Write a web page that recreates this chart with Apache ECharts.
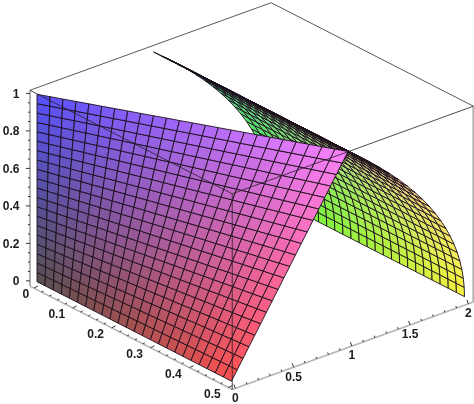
<!DOCTYPE html>
<html><head><meta charset="utf-8">
<style>html,body{margin:0;padding:0;background:#fff}#c{width:474px;height:404px}</style>
<script src="https://cdn.jsdelivr.net/npm/echarts@6/dist/echarts.min.js"></script>
</head><body><div id="c"></div>
<script>
// ---- values ----
const aLevels=[0,.0208,.0417,.0625,.0833,.1042,.125,.1458,.1667,.1875,.2083,.2292,.25,.2708,.2917,.3125,.3333,.3542,.375,.3958,.4167,.4375,.4583,.4792,.5];
const zLevels=[0,.05,.1,.15,.2,.25,.3,.35,.4,.45,.5,.55,.6,.65,.7,.75,.8,.85,.9,.95,1];
// curved sheet: b at each z level (same for all a)
const curvedB=[2,1.9975,1.99,1.9775,1.96,1.9375,1.91,1.8775,1.84,1.7975,1.75,1.6975,1.64,1.5775,1.51,1.4375,1.36,1.2775,1.19,1.0975,1];
// flat sheet: b table, one row per z level, one column per a level
const planeB=[
[0,0,0,0,0,0,0,0,0,0,0,0,0,0,0,0,0,0,0,0,0,0,0,0,0],
[0,.002,.004,.006,.008,.010,.013,.015,.017,.019,.021,.023,.025,.027,.029,.031,.033,.035,.038,.040,.042,.044,.046,.048,.050],
[0,.004,.008,.013,.017,.021,.025,.029,.033,.038,.042,.046,.050,.054,.058,.063,.067,.071,.075,.079,.083,.088,.092,.096,.100],
[0,.006,.013,.019,.025,.031,.038,.044,.050,.056,.063,.069,.075,.081,.088,.094,.100,.106,.113,.119,.125,.131,.138,.144,.150],
[0,.008,.017,.025,.033,.042,.050,.058,.067,.075,.083,.092,.100,.108,.117,.125,.133,.142,.150,.158,.167,.175,.183,.192,.200],
[0,.010,.021,.031,.042,.052,.063,.073,.083,.094,.104,.115,.125,.135,.146,.156,.167,.177,.188,.198,.208,.219,.229,.240,.250],
[0,.013,.025,.038,.050,.063,.075,.088,.100,.113,.125,.138,.150,.163,.175,.188,.200,.213,.225,.238,.250,.263,.275,.288,.300],
[0,.015,.029,.044,.058,.073,.088,.102,.117,.131,.146,.160,.175,.190,.204,.219,.233,.248,.263,.277,.292,.306,.321,.335,.350],
[0,.017,.033,.050,.067,.083,.100,.117,.133,.150,.167,.183,.200,.217,.233,.250,.267,.283,.300,.317,.333,.350,.367,.383,.400],
[0,.019,.038,.056,.075,.094,.113,.131,.150,.169,.188,.206,.225,.244,.263,.281,.300,.319,.338,.356,.375,.394,.413,.431,.450],
[0,.021,.042,.063,.083,.104,.125,.146,.167,.188,.208,.229,.250,.271,.292,.313,.333,.354,.375,.396,.417,.438,.458,.479,.500],
[0,.023,.046,.069,.092,.115,.138,.160,.183,.206,.229,.252,.275,.298,.321,.344,.367,.390,.413,.435,.458,.481,.504,.527,.550],
[0,.025,.050,.075,.100,.125,.150,.175,.200,.225,.250,.275,.300,.325,.350,.375,.400,.425,.450,.475,.500,.525,.550,.575,.600],
[0,.027,.054,.081,.108,.135,.163,.190,.217,.244,.271,.298,.325,.352,.379,.406,.433,.460,.488,.515,.542,.569,.596,.623,.650],
[0,.029,.058,.088,.117,.146,.175,.204,.233,.263,.292,.321,.350,.379,.408,.438,.467,.496,.525,.554,.583,.613,.642,.671,.700],
[0,.031,.063,.094,.125,.156,.188,.219,.250,.281,.313,.344,.375,.406,.438,.469,.500,.531,.563,.594,.625,.656,.688,.719,.750],
[0,.033,.067,.100,.133,.167,.200,.233,.267,.300,.333,.367,.400,.433,.467,.500,.533,.567,.600,.633,.667,.700,.733,.767,.800],
[0,.035,.071,.106,.142,.177,.213,.248,.283,.319,.354,.390,.425,.460,.496,.531,.567,.602,.638,.673,.708,.744,.779,.815,.850],
[0,.038,.075,.113,.150,.188,.225,.263,.300,.338,.375,.413,.450,.488,.525,.563,.600,.638,.675,.713,.750,.788,.825,.863,.900],
[0,.040,.079,.119,.158,.198,.238,.277,.317,.356,.396,.435,.475,.515,.554,.594,.633,.673,.713,.752,.792,.831,.871,.910,.950],
[0,.042,.083,.125,.167,.208,.250,.292,.333,.375,.417,.458,.500,.542,.583,.625,.667,.708,.750,.792,.833,.875,.917,.958,1]
];
const aTicks=[0,.1,.2,.3,.4,.5];
const bTicks=[0,.5,1,1.5,2];
const zTicks=[0,.2,.4,.6,.8,1];
const aTickLabels=['0','0.1','0.2','0.3','0.4','0.5'];
const bTickLabels=['0','0.5','1','1.5','2'];
const zTickLabels=['0','0.2','0.4','0.6','0.8','1'];
const frameA=[-.01,.51], frameB=[-.027,2.043], frameZ=[-.028,1.017];

// ---- view: fixed oblique projection of the box onto the page ----
const view={ox:37,oy:281.7,ax:389,ay:199,bx:116.5,by:-42.3,zy:-187.4};
function project(a,b,z){return [view.ox+view.ax*a+view.bx*b, view.oy+view.ay*a+view.by*b+view.zy*z];}

function shadePlane(a,b,z){
  return 'rgb('+Math.round(85+330*a)+','+Math.round(80+50*b)+','+Math.round(78+172*z)+')';
}
function shadeCurved(a,b,z){
  return 'rgb('+Math.round(85+320*a)+','+Math.round(150+90*(b-1))+','+Math.round(62+110*z)+')';
}
function cellsFrom(bAt){
  const out=[];
  for(let j=0;j<zLevels.length-1;j++)for(let i=0;i<aLevels.length-1;i++){
    out.push([aLevels[i],bAt(j,i),zLevels[j],aLevels[i+1],bAt(j,i+1),zLevels[j],
              aLevels[i+1],bAt(j+1,i+1),zLevels[j+1],aLevels[i],bAt(j+1,i),zLevels[j+1]]);
  }
  return out;
}
function renderCellWith(shade){
  return function(p,api){
    const pts=[],m=[0,0,0];
    for(let k=0;k<4;k++){
      const a=api.value(k*3),b=api.value(k*3+1),z=api.value(k*3+2);
      pts.push(api.coord(project(a,b,z)));m[0]+=a/4;m[1]+=b/4;m[2]+=z/4;
    }
    return {type:'polygon',shape:{points:pts},
      style:{fill:shade(m[0],m[1],m[2]),stroke:'rgba(24,12,24,0.88)',lineWidth:1}};
  };
}
function renderSeg(p,api){
  const s=api.coord(project(api.value(0),api.value(1),api.value(2)));
  const e=api.coord(project(api.value(3),api.value(4),api.value(5)));
  const t=api.value(6);
  const st=[{stroke:'#b0b0b0',lineWidth:2},{stroke:'#5a5a5a',lineWidth:1},{stroke:'rgba(40,30,40,0.8)',lineWidth:1},{stroke:'#b4b4b4',lineWidth:1.6}][t];
  return {type:'line',shape:{x1:s[0],y1:s[1],x2:e[0],y2:e[1]},style:st};
}
const [A0,A1]=frameA,[B0,B1]=frameB,[Z0,Z1]=frameZ;
const frameSegs=[
 [A0,B0,Z0,A0,B0,Z1,0],[A1,B1,Z0,A1,B1,Z1,0],
 [A0,B0,Z0,A1,B0,Z0,3],[A1,B0,Z0,A1,B1,Z0,3],
 [A0,B0,Z1,A0,B1,Z1,1],[A0,B1,Z1,A1,B1,Z1,1],
 [A0,B0,Z1,A1,B0,Z1,2],[A1,B0,Z1,A1,B1,Z1,2],[A1,B0,Z0,A1,B0,Z1,2]
];
// tick marks drawn as pixel-sized stubs
function tickItems(){
  const out=[];
  for(let i=0;i<=25;i++){const a=i*.02;out.push({o:[a,B0,Z0],d:[i%5?2:4,i%5?-1:-2]});}
  for(let i=0;i<=20;i++){const b=i*.1;out.push({o:[A1,b,Z0],d:[i%5?-1:-1.5,i%5?-2:-4]});}
  for(let i=0;i<=20;i++){const z=i*.05;out.push({o:[A0,B0,z],d:[i%4?-2:-4,0]});}
  return out;
}
const ticks=tickItems();
function labelSeries(name,vals,labels,pt,dx,dy,align){
  return {type:'custom',name,coordinateSystem:'cartesian2d',silent:true,clip:false,z:6,
    data:vals.map(v=>[v]),
    renderItem(p,api){
      const i=p.dataIndex,c=api.coord(project.apply(null,pt(vals[i])));
      const s=labels[i];
      return {type:'text',style:{text:s,x:c[0]+dx(s),y:c[1]+dy,align,verticalAlign:'middle',
        font:'bold 12px "Liberation Sans",Arial,sans-serif',fill:'#1c1c1c'}};
    }};
}
const option={
  animation:false,backgroundColor:'#fff',
  grid:{left:0,right:0,top:0,bottom:0},
  xAxis:{type:'value',min:0,max:474,show:false},
  yAxis:{type:'value',min:0,max:404,inverse:true,show:false},
  series:[
    {type:'custom',name:'curved',coordinateSystem:'cartesian2d',silent:true,clip:false,z:2,
     data:cellsFrom((j,i)=>curvedB[j]),renderItem:renderCellWith(shadeCurved)},
    {type:'custom',name:'plane',coordinateSystem:'cartesian2d',silent:true,clip:false,z:3,
     data:cellsFrom((j,i)=>planeB[j][i]),renderItem:renderCellWith(shadePlane)},
    {type:'custom',name:'frame',coordinateSystem:'cartesian2d',silent:true,clip:false,z:4,
     data:frameSegs,renderItem:renderSeg},
    {type:'custom',name:'ticks',coordinateSystem:'cartesian2d',silent:true,clip:false,z:5,
     data:ticks.map(t=>t.o),
     renderItem(p,api){
       const c=api.coord(project(api.value(0),api.value(1),api.value(2))),d=ticks[p.dataIndex].d;
       return {type:'line',shape:{x1:c[0],y1:c[1],x2:c[0]+d[0],y2:c[1]+d[1]},style:{stroke:'#333',lineWidth:1}};
     }},
    labelSeries('aLabels',aTicks,aTickLabels,a=>[a,B0,Z0],s=>s.length>1?-16:-8,7,'center'),
    labelSeries('bLabels',bTicks,bTickLabels,b=>[A1,b,Z0],s=>0,10,'center'),
    labelSeries('zLabels',zTicks,zTickLabels,z=>[A0,B0,z],s=>-10.5,1,'right')
  ]
};
const chart=echarts.init(document.getElementById('c'),null,{renderer:'canvas'});
chart.setOption(option);
</script></body></html>
